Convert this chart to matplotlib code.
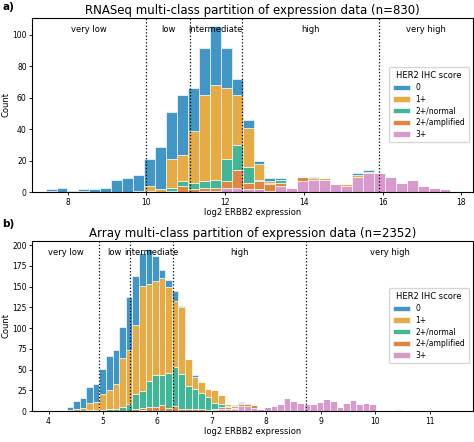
import numpy as np
import matplotlib
matplotlib.use("Agg")
import matplotlib.pyplot as plt

categories = ["0", "1+", "2+/normal", "2+/amplified", "3+"]
colors = ["#0173b2", "#de8f05", "#029e73", "#d55e00", "#cc78bc"]

# Panel a: RNASeq bins
a_start, a_width = 7.44, 0.278
a_zero = [1,3,1,1,2,3,8,9,10,17,27,30,38,27,30,38,26,10,5,2,2,1,0,0,1,0,0,0,1,1,0,0,0,0,0,0,0]
a_one  = [1,0,0,1,0,0,0,0,1,3,2,18,17,33,55,60,45,32,25,10,1,0,0,0,1,1,0,1,1,1,0,0,0,0,0,0,0]
a_norm = [0,0,0,0,0,0,0,0,0,1,0,2,3,4,4,5,14,16,10,1,1,2,0,0,0,0,0,0,0,0,0,0,0,0,0,0,0]
a_amp  = [0,0,0,0,0,0,0,0,0,0,0,1,4,2,2,2,4,11,4,5,4,2,0,3,0,0,0,0,0,0,0,0,0,0,0,0,0]
a_p3   = [0,0,0,0,0,0,0,0,0,0,0,0,0,0,1,1,3,3,2,2,1,4,3,7,8,8,5,4,10,12,12,10,6,8,4,3,2]
a_cuts = [10.0, 11.1, 12.43, 15.9]

# Panel b: Array bins
b_start, b_width = 4.33, 0.121
b_zero = [4,9,12,19,22,31,41,41,37,63,59,39,42,30,10,8,12,1,0,2,0,0,0,0,0,1,1,0,0,0,0,0,0,0,0,0,0,0,0,0,0,0,0,0,0,0,0,0,0,0,1]
b_one  = [1,3,4,9,10,19,23,29,59,66,83,127,117,113,117,104,80,80,33,15,13,10,15,11,3,2,2,2,0,0,0,0,0,0,0,0,0,0,0,0,0,0,0,0,0,0,0,0,0,0,0]
b_norm = [0,0,0,1,1,1,2,3,5,8,18,20,31,39,36,42,47,42,27,24,20,16,7,3,1,0,0,0,0,0,0,0,0,0,0,0,0,0,0,0,0,0,0,0,0,0,0,0,0,0,0]
b_amp  = [0,0,0,0,0,0,0,0,0,0,3,3,5,5,7,4,6,3,3,2,2,1,2,3,2,1,2,2,3,0,0,0,0,0,0,0,0,0,0,0,0,0,0,0,0,0,0,0,0,0,0]
b_p3   = [0,0,0,0,0,0,0,0,0,0,0,1,0,0,0,0,0,0,0,0,0,0,1,2,3,3,6,6,4,3,5,6,8,16,12,10,8,9,11,14,12,5,10,13,9,10,8,0,0,0,0]
b_cuts = [4.93, 5.5, 6.28, 8.73]

labels_txt = ["very low", "low", "intermediate", "high", "very high"]

fig = plt.figure(figsize=(4.74, 4.42), dpi=100)
plt.rcParams["font.family"] = ["DejaVu Sans"]

def panel(ax, start, width, series, cuts, xlim, ylim, yticks, xticks, title):
    n = len(series[0])
    edges = start + width * np.arange(n)
    bottom = np.zeros(n)
    handles = {}
    # stack with 3+ at the bottom, 0 on top
    for s, c, lab in reversed(list(zip(series, colors, categories))):
        s = np.array(s, float)
        h = ax.bar(edges, s, width=width, bottom=bottom, align="edge", color=c,
                   alpha=0.75, edgecolor="white", linewidth=0.6, label=lab)
        handles[lab] = h
        bottom += s
    for c in cuts:
        ax.axvline(c, color="black", linestyle=":", linewidth=0.9)
    bounds = [xlim[0]] + cuts + [xlim[1]]
    for i, t in enumerate(labels_txt):
        ax.text((bounds[i] + bounds[i + 1]) / 2, ylim[1] * 0.93, t,
                ha="center", va="center", fontsize=6)
    ax.set_xlim(*xlim)
    ax.set_ylim(*ylim)
    ax.set_yticks(yticks)
    ax.set_xticks(xticks)
    ax.tick_params(labelsize=5.5, length=2.5, width=0.6, pad=1.5)
    for sp in ax.spines.values():
        sp.set_linewidth(0.8)
    ax.set_xlabel("log2 ERBB2 expression", fontsize=6, labelpad=1)
    ax.set_ylabel("Count", fontsize=6, labelpad=1)
    ax.set_title(title, fontsize=8.5, pad=3)
    ax.legend([handles[l] for l in categories], categories,
              title="HER2 IHC score", fontsize=5.5, title_fontsize=6,
              loc="center right", frameon=True, handlelength=2.2,
              borderpad=0.5, labelspacing=0.35)

ax1 = fig.add_axes([0.068, 0.565, 0.93, 0.395])
panel(ax1, a_start, a_width, [a_zero, a_one, a_norm, a_amp, a_p3], a_cuts,
      (7.1, 18.3), (0, 111), [0, 20, 40, 60, 80, 100], [8, 10, 12, 14, 16, 18],
      "RNASeq multi-class partition of expression data (n=830)")
ax2 = fig.add_axes([0.068, 0.07, 0.93, 0.385])
panel(ax2, b_start, b_width, [b_zero, b_one, b_norm, b_amp, b_p3], b_cuts,
      (3.7, 11.8), (0, 205), [0, 25, 50, 75, 100, 125, 150, 175, 200],
      [4, 5, 6, 7, 8, 9, 10, 11],
      "Array multi-class partition of expression data (n=2352)")
fig.text(0.005, 0.995, "a)", fontsize=7.5, fontweight="bold", va="top")
fig.text(0.005, 0.505, "b)", fontsize=7.5, fontweight="bold", va="top")
fig.savefig("out.png", dpi=100)
